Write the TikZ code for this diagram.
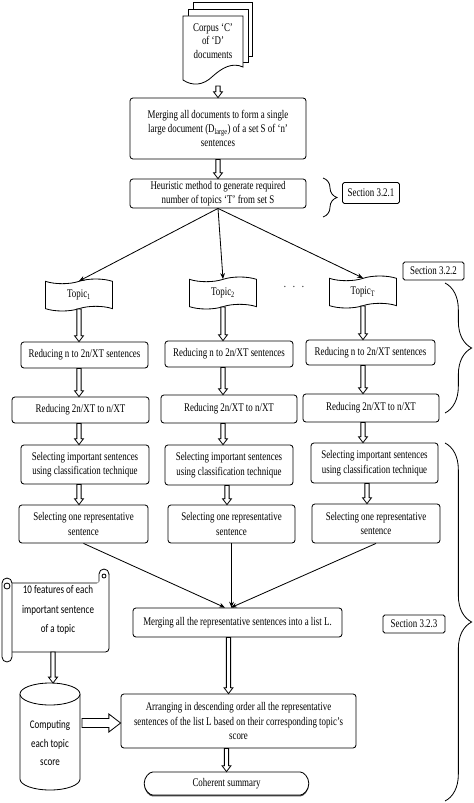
\documentclass[tikz,border=0pt]{standalone}
\usepackage{fontspec}
\setmainfont{Liberation Serif}[FakeStretch=0.76]
\newfontfamily\calfont{Carlito}[FakeStretch=0.77]
\usetikzlibrary{shapes.symbols, shapes.misc, arrows.meta, calc, decorations.pathreplacing, shadows}
\tikzset{
  block/.style={rectangle, draw, fill=white, rounded corners=2.5pt, align=center,
    inner sep=1pt, font=\fontsize{10}{12.3}\selectfont, line width=0.7pt},
  secbox/.style={block, rounded corners=1.5pt},
  topicflag/.style={tape, draw, minimum width=20.1mm, minimum height=9.6mm,
    tape bend height=4pt, font=\fontsize{10}{12}\selectfont, line width=0.7pt},
  plain/.style={align=center, inner sep=0pt, font=\fontsize{10}{11.5}\selectfont},
  calnode/.style={align=center, inner sep=0pt, font=\calfont\fontsize{10}{#1}\selectfont},
  arrow/.style={-{Stealth[length=5pt,width=4pt]}, line width=0.7pt},
  curly/.style={decorate, decoration={brace, amplitude=#1}, line width=0.7pt},
  outline/.style={draw, fill=white, line width=0.7pt}
}
% hollow block arrow: from, to, half shaft, half head, head length
\newcommand{\hollowarrow}[5]{%
  \coordinate (ha) at (#1);
  \coordinate (hb) at (#2);
  \coordinate (hc) at ($(hb)!#5!(ha)$);
  \draw[outline] ($(ha)!#3!90:(hb)$) -- ($(hc)!#3!-90:(ha)$) -- ($(hc)!#4!-90:(ha)$)
    -- (hb) -- ($(hc)!#4!90:(ha)$) -- ($(hc)!#3!90:(ha)$) -- ($(ha)!#3!-90:(hb)$) -- cycle;}
\newcommand{\thinhollow}[2]{\hollowarrow{#1}{#2}{1.8pt}{3.8pt}{5pt}}

\begin{document}
\begin{tikzpicture}[x=0.3mm, y=0.3mm]
  \useasboundingbox (0,0) rectangle (474,-803);

  % corpus of documents
  \draw[outline] (193,-2) rectangle (252,-56);
  \draw[outline] (188,-9) rectangle (248,-62);
  \draw[outline] (183,-16) -- (243,-16) -- (243,-67) .. controls (232,-62) and (222,-68) .. (213,-76)
    .. controls (203,-86) and (192,-86) .. (183,-80) -- cycle;
  \node[plain] (corpus) at (213,-41) {Corpus `C'\\ of `D'\\ documents};
  \coordinate (docend) at (218,-86);

  \node[block, minimum width=52.8mm, minimum height=18.3mm] (merge) at (218,-128.5)
    {Merging all documents to form a single\\ large document (D\textsubscript{large}) of a set S of `n'\\ sentences};
  \node[block, minimum width=52.8mm, minimum height=8.7mm] (heur) at (218,-193.5)
    {Heuristic method to generate required\\ number of topics `T' from set S};
  \node[secbox, minimum width=17.1mm, minimum height=6.3mm] (sec1) at (371,-193) {Section 3.2.1};

  \thinhollow{docend}{docend |- merge.north}
  \thinhollow{merge.south}{heur.north}
  \draw[curly=4.2mm] (323,-178) -- (323,-217);

  % topics
  \node[topicflag] (t1) at (79,-295) {Topic\textsubscript{1}};
  \node[topicflag] (t2) at (223,-293) {Topic\textsubscript{2}};
  \node[topicflag] (t3) at (363,-292) {Topic\textsubscript{T}};
  \node[plain] (dots) at (294,-287) {.\ \ \ .\ \ \ .};
  \draw[arrow] (heur.south) -- (t1.north);
  \draw[arrow] (heur.south) -- (t2.north);
  \draw[arrow] (heur.south) -- (t3.north);

  \node[secbox, minimum width=18.3mm, minimum height=5.4mm] (sec2) at (433.5,-271) {Section 3.2.2};
  \draw[curly=8mm] (445,-283) -- (445,-413);

  % per topic steps
  \node[block, minimum width=38.1mm, minimum height=7.8mm] (r1a) at (84.5,-355) {Reducing n to 2n/XT sentences};
  \node[block, minimum width=38.4mm, minimum height=7.8mm] (r1b) at (229,-354) {Reducing n to 2n/XT sentences};
  \node[block, minimum width=38.7mm, minimum height=7.5mm] (r1c) at (370.5,-352.5) {Reducing n to 2n/XT sentences};

  \node[block, minimum width=41.1mm, minimum height=7.8mm] (r2a) at (80.5,-410) {Reducing 2n/XT to n/XT};
  \node[block, minimum width=40.8mm, minimum height=8.4mm] (r2b) at (229,-409) {Reducing 2n/XT to n/XT};
  \node[block, minimum width=40.8mm, minimum height=8.4mm] (r2c) at (371,-408) {Reducing 2n/XT to n/XT};

  \node[block, minimum width=38.4mm, minimum height=11.7mm] (s1) at (85,-464.5)
    {Selecting important sentences\\ using classification technique};
  \node[block, minimum width=38.4mm, minimum height=12mm] (s2) at (229,-465)
    {Selecting important sentences\\ using classification technique};
  \node[block, minimum width=38.1mm, minimum height=12mm] (s3) at (374.5,-463)
    {Selecting important sentences\\ using classification technique};

  \node[block, minimum width=38.7mm, minimum height=11.4mm] (p1) at (83.5,-524)
    {Selecting one representative\\ sentence};
  \node[block, minimum width=38.1mm, minimum height=11.4mm] (p2) at (231.5,-524)
    {Selecting one representative\\ sentence};
  \node[block, minimum width=38.4mm, minimum height=11.7mm] (p3) at (376,-523.5)
    {Selecting one representative\\ sentence};

  \thinhollow{t1.south}{t1 |- r1a.north}
  \thinhollow{t2.south}{t2 |- r1b.north}
  \thinhollow{t3.south}{t3 |- r1c.north}
  \thinhollow{t1 |- r1a.south}{t1 |- r2a.north}
  \thinhollow{t2 |- r1b.south}{t2 |- r2b.north}
  \thinhollow{t3 |- r1c.south}{t3 |- r2c.north}
  \thinhollow{t1 |- r2a.south}{t1 |- s1.north}
  \thinhollow{t2 |- r2b.south}{t2 |- s2.north}
  \thinhollow{t3 |- r2c.south}{t3 |- s3.north}
  \thinhollow{t1 |- s1.south}{t1 |- p1.north}
  \thinhollow{$(t2 |- s2.south)+(4,0)$}{$(t2 |- p2.north)+(4,0)$}
  \thinhollow{$(t3 |- s3.south)+(4,0)$}{$(t3 |- p3.north)+(4,0)$}

  % merging
  \node[block, minimum width=62.7mm, minimum height=8.7mm] (list) at (237.5,-622.5)
    {Merging all the representative sentences into a list L.};
  \draw[arrow] (p1.south) -- ([xshift=-3.75mm]list.north);
  \draw[arrow] (p2.south) -- (p2.south |- list.north);
  \draw[arrow] (p3.south) -- ([xshift=-1.95mm]list.north);

  \node[secbox, minimum width=18.6mm, minimum height=5.4mm] (sec3) at (414,-624) {Section 3.2.3};
  \draw[curly=8mm] (445,-443) -- (445,-801);

  % features scroll
  \draw[outline] (12,-583) -- (104,-583) -- (104,-579) arc[start angle=-90, end angle=180, radius=5]
    -- (99,-583);
  \draw[outline, rounded corners=3] (109,-574) -- (109,-652) -- (12,-652);
  \draw[line width=0.7pt] (104,-576) circle[radius=2];
  \draw[outline] (2,-585) -- (2,-657) arc[start angle=180, end angle=360, radius=5] -- (12,-583)
    arc[start angle=0, end angle=180, radius=5] -- cycle;
  \draw[line width=0.7pt] (7,-586) circle[radius=3];
  \node[calnode=16.5pt] (feat) at (58,-610) {10 features of each\\ important sentence\\ of a topic};
  \coordinate (featend) at (53,-652);

  % score cylinder
  \draw[outline] (20,-694) -- (20,-779) arc[start angle=180, end angle=360, x radius=30, y radius=11]
    -- (80,-694);
  \draw[outline] (50,-694) ellipse[x radius=30, y radius=11];
  \node[calnode=15.5pt] (score) at (50,-743) {Computing\\ each topic\\ score};
  \coordinate (scoretop) at (53,-683);
  \coordinate (scoreside) at (82,-723);

  \node[block, minimum width=70.5mm, minimum height=16.2mm] (arrange) at (238.5,-721)
    {Arranging in descending order all the representative\\ sentences of the list L based on their corresponding topic's\\ score};
  \node[block, rounded rectangle, minimum width=50.1mm, minimum height=6.9mm,
    drop shadow={shadow xshift=0pt, shadow yshift=-1.2pt, fill=black!80, opacity=0.9}] (summary)
    at (226.5,-783.5) {Coherent summary};

  \thinhollow{featend}{featend |- scoretop}
  \hollowarrow{scoreside}{scoreside -| arrange.west}{3.8pt}{7.7pt}{10pt}
  \thinhollow{$(list.south)+(-9,0)$}{$(arrange.north)+(-10,0)$}
  \thinhollow{summary.north |- arrange.south}{summary.north}
\end{tikzpicture}
\end{document}
